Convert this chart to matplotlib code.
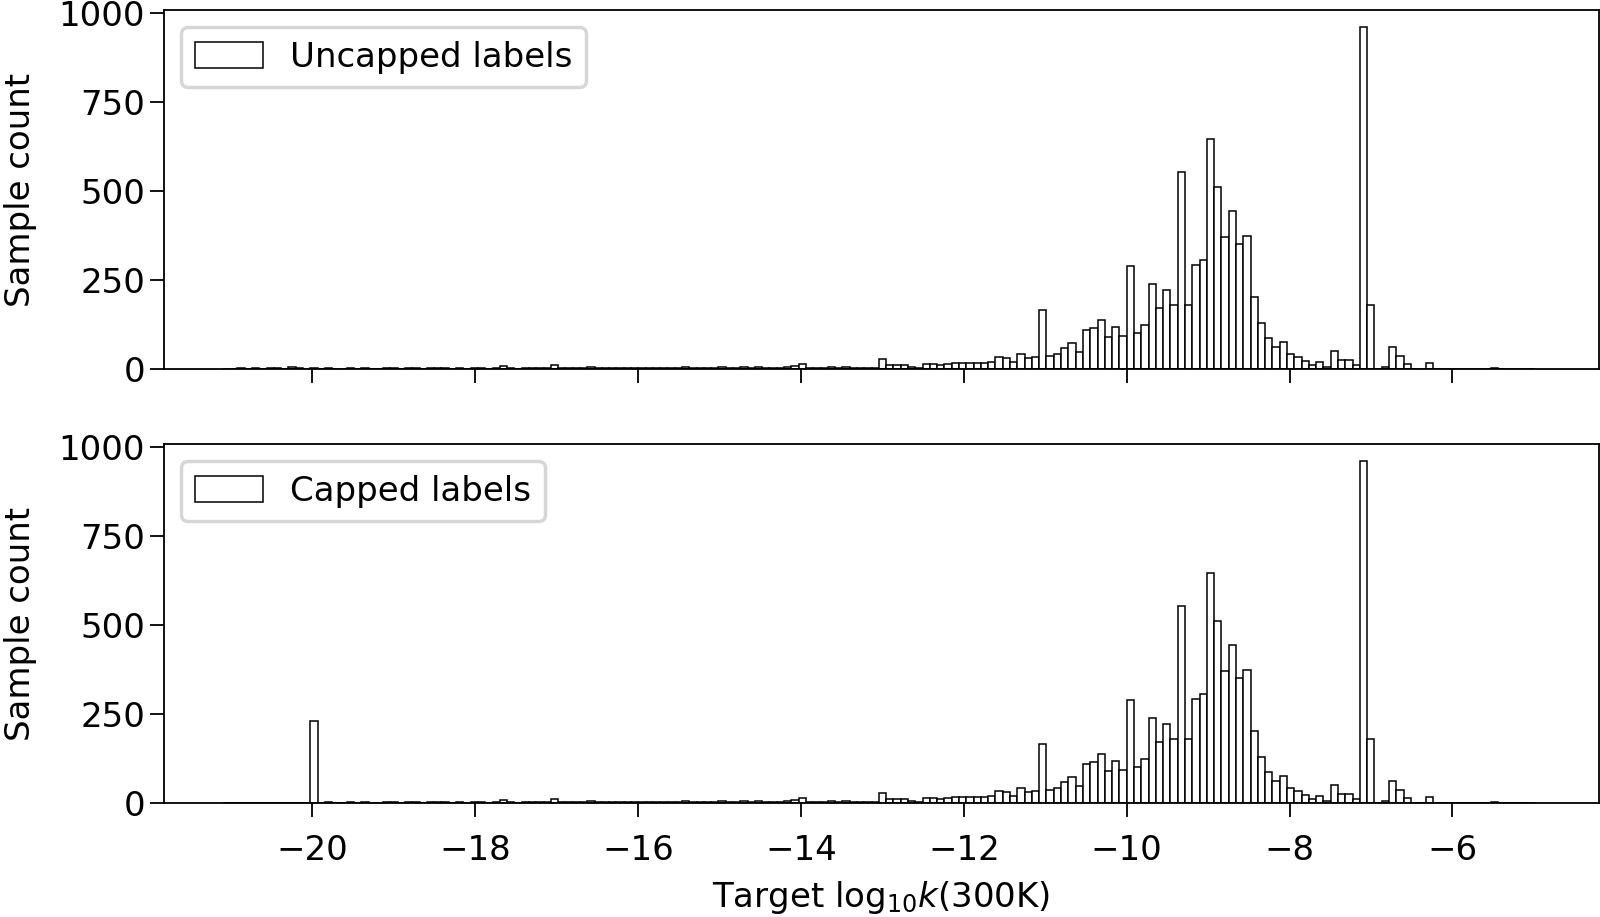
import matplotlib
matplotlib.use("Agg")
import matplotlib.pyplot as plt
import numpy as np

# histogram bins: 180 bins of width 0.0895 starting at -21.098
bin_start = -21.098
bin_width = 0.0895

# counts per bin
uncapped_counts = [
    1, 1, 2, 1, 2, 1, 3, 2, 1, 5,
    2, 1, 3, 1, 2, 1, 1, 2, 1, 2,
    1, 1, 2, 2, 1, 2, 2, 1, 2, 2,
    2, 1, 2, 1, 4, 2, 1, 2, 8, 2,
    1, 2, 2, 3, 2, 12, 2, 2, 3, 2,
    5, 3, 2, 3, 4, 3, 2, 3, 4, 2,
    2, 3, 4, 5, 3, 2, 4, 3, 6, 3,
    2, 5, 2, 5, 2, 2, 2, 5, 8, 13,
    2, 2, 2, 5, 2, 5, 3, 2, 2, 2,
    28, 10, 10, 10, 5, 3, 13, 13, 10, 13,
    18, 16, 16, 16, 16, 20, 35, 30, 21, 41,
    30, 34, 167, 37, 41, 58, 72, 47, 110, 114,
    138, 90, 117, 93, 290, 102, 123, 240, 172, 221,
    181, 553, 179, 293, 307, 647, 512, 372, 445, 352,
    374, 203, 128, 88, 61, 76, 41, 35, 23, 11,
    20, 7, 51, 26, 26, 11, 961, 179, 0, 7,
    61, 37, 13, 0, 0, 17, 0, 0, 0, 0,
    0, 0, 0, 0, 3, 1, 0, 0, 0, 0,
]
# capped labels: everything below -20 is piled into the -20 bin
capped_counts = [0] * 12 + [230] + uncapped_counts[13:]

panel_labels = ["Uncapped labels", "Capped labels"]
xticks = [-20, -18, -16, -14, -12, -10, -8, -6]
yticks = [0, 250, 500, 750, 1000]

edges = bin_start + bin_width * np.arange(len(uncapped_counts) + 1)
centers = 0.5 * (edges[:-1] + edges[1:])

plt.rcParams['font.family'] = ['DejaVu Sans']
plt.rcParams['font.size'] = 24.5

fig, axes = plt.subplots(2, 1, figsize=(16, 9.17), dpi=100, sharex=True)
fig.subplots_adjust(left=0.1025, right=0.9994, top=0.9891, bottom=0.1243, hspace=0.209)

for ax, counts, lab in zip(axes, [uncapped_counts, capped_counts], panel_labels):
    ax.hist(centers, bins=edges, weights=counts, histtype='bar',
            facecolor='white', edgecolor='black', linewidth=1.1, label=lab)
    ax.set_ylabel('Sample count', labelpad=16)
    ax.set_yticks(yticks)
    ax.set_ylim(0, 1009)
    leg = ax.legend(loc='upper left', handlelength=2.0, handleheight=0.8)
    leg.get_frame().set_linewidth(2.5)
    for sp in ax.spines.values():
        sp.set_linewidth(1.3)
    ax.tick_params(length=10, width=1.3)
    ax.tick_params(axis='x', pad=12)

axes[1].set_xticks(xticks)
axes[1].set_xticklabels(['\u2212' + str(abs(t)) for t in xticks])
axes[1].set_xlim(-21.82, -4.20)
axes[1].set_xlabel(r'Target log$_{10}k$(300K)', labelpad=9)

plt.savefig('out.png', dpi=100)
